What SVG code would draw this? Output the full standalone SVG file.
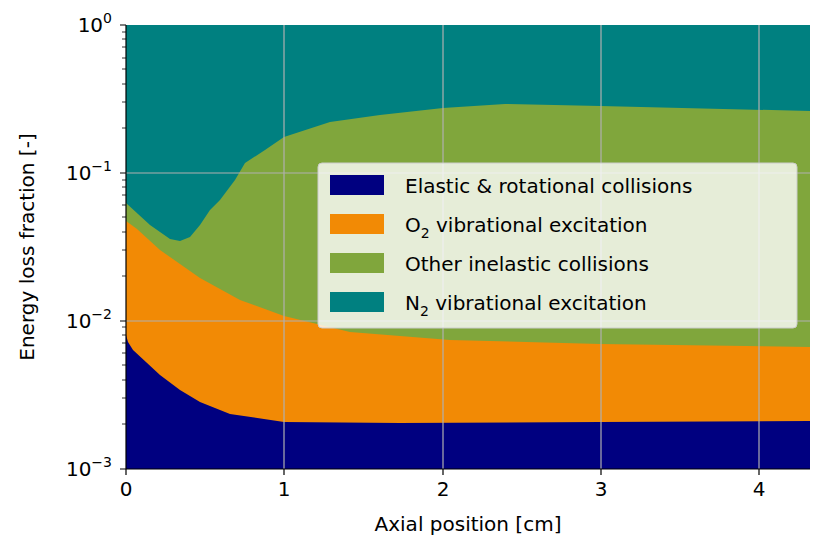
<svg xmlns="http://www.w3.org/2000/svg" width="825" height="558" viewBox="0 0 825 558">
<style>
text{font-family:"DejaVu Sans",sans-serif;fill:#000}
.t{font-size:20px}
.g{stroke:#b0b0b0;stroke-width:1.2;fill:none}
.ax{stroke:#000;stroke-width:1.2;fill:none}
.lg{font-size:20px}
</style>
<rect width="825" height="558" fill="#fff"/>
<g id="areas">
<rect x="126" y="25" width="684" height="444" fill="#008080"/>
<path id="green" fill="#80a63c" d="M126,203 L150,225 L170,239 L180,241 L190,237 L200,225 L210,210 L220,200 L235,180 L245,163 L265,150 L284,137 L330,122 L380,115 L443,108 L505,104 L600,106 L810,111 L810,469 L126,469 Z"/>
<path id="orange" fill="#f28a05" d="M126,221 L137,229 L160,250 L200,278 L240,300 L284,316 L350,332 L450,340 L600,344 L810,347 L810,469 L126,469 Z"/>
<path id="blue" fill="#000080" d="M126,335 L128,342 L133,350 L160,375 L180,390 L200,402 L230,414 L284,422 L400,423 L600,422 L810,421 L810,469 L126,469 Z"/>
</g>
<g id="grid" class="g">
<line x1="284" y1="25" x2="284" y2="469"/><line x1="443" y1="25" x2="443" y2="469"/>
<line x1="601" y1="25" x2="601" y2="469"/><line x1="759" y1="25" x2="759" y2="469"/>
<line x1="126" y1="173" x2="810" y2="173"/><line x1="126" y1="321" x2="810" y2="321"/>
</g>
<g id="axes" class="ax">
<line x1="126" y1="25" x2="126" y2="469"/><line x1="126" y1="469" x2="810" y2="469"/>
<path d="M126,469v6M284,469v6M443,469v6M601,469v6M759,469v6"/>
<path d="M126,25h-6M126,173h-6M126,321h-6M126,469h-6"/>
<path stroke-width="0.8" d="M126,424h-4M126,398h-4M126,380h-4M126,365h-4M126,353h-4M126,343h-4M126,335h-4M126,327h-4M126,276h-4M126,250h-4M126,232h-4M126,217h-4M126,205h-4M126,195h-4M126,187h-4M126,180h-4M126,128h-4M126,102h-4M126,84h-4M126,69h-4M126,58h-4M126,47h-4M126,39h-4M126,32h-4"/>
</g>
<g id="ticklabels" class="t">
<text x="126" y="496" text-anchor="middle">0</text>
<text x="284" y="496" text-anchor="middle">1</text>
<text x="443" y="496" text-anchor="middle">2</text>
<text x="601" y="496" text-anchor="middle">3</text>
<text x="759" y="496" text-anchor="middle">4</text>
<text x="112" y="32" text-anchor="end">10<tspan dy="-9" font-size="14">0</tspan></text>
<text x="112" y="180" text-anchor="end">10<tspan dy="-9" font-size="14">−1</tspan></text>
<text x="112" y="328" text-anchor="end">10<tspan dy="-9" font-size="14">−2</tspan></text>
<text x="112" y="476" text-anchor="end">10<tspan dy="-9" font-size="14">−3</tspan></text>
<text x="468" y="531" text-anchor="middle">Axial position [cm]</text>
<text transform="translate(34,247) rotate(-90)" text-anchor="middle">Energy loss fraction [-]</text>
</g>
<g id="legend">
<rect x="318" y="163" width="479" height="165" rx="4" fill="#fff" fill-opacity="0.8" stroke="#ccc"/>
<rect x="330" y="175" width="54" height="20" fill="#000080"/>
<rect x="330" y="214" width="54" height="20" fill="#f28a05"/>
<rect x="330" y="253" width="54" height="20" fill="#80a63c"/>
<rect x="330" y="292" width="54" height="20" fill="#008080"/>
<text class="lg" x="405" y="193">Elastic &amp; rotational collisions</text>
<text class="lg" x="405" y="232">O<tspan dy="6" font-size="14">2</tspan><tspan dy="-6"> vibrational excitation</tspan></text>
<text class="lg" x="405" y="271">Other inelastic collisions</text>
<text class="lg" x="405" y="310">N<tspan dy="6" font-size="14">2</tspan><tspan dy="-6"> vibrational excitation</tspan></text>
</g>
</svg>
